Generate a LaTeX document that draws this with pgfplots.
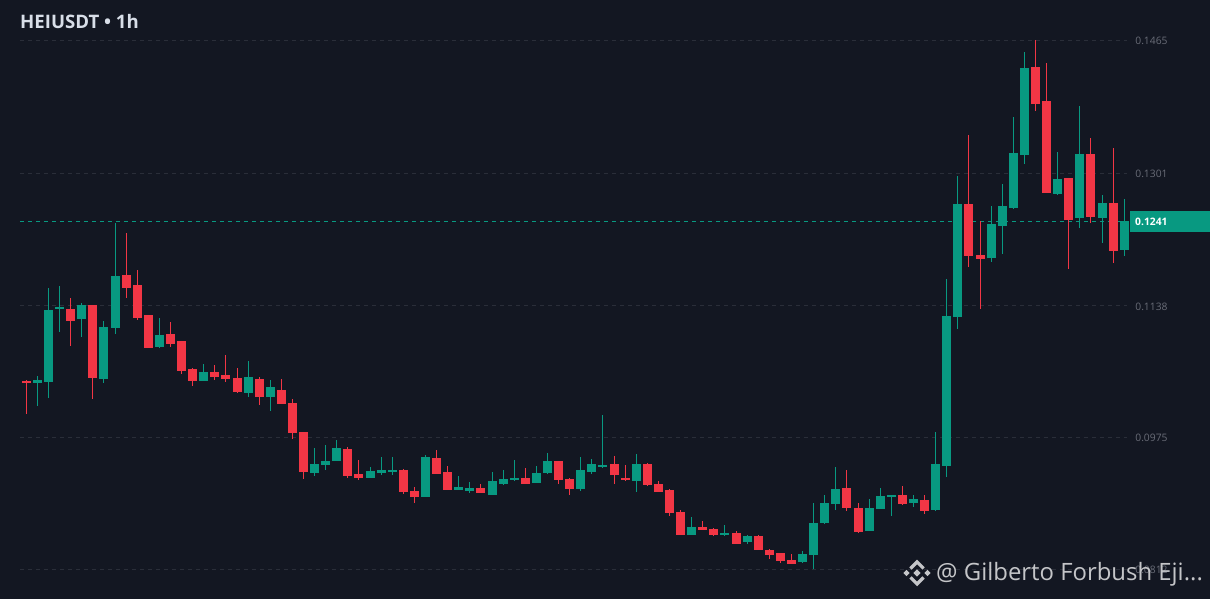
\documentclass[border=0pt]{standalone}
\usepackage{pgfplots}
\usepackage{pgfplotstable}
\pgfplotsset{compat=1.18}
\usepackage{fontspec}
\setmainfont{Open Sans}
\definecolor{bgc}{HTML}{131722}
\definecolor{cg}{HTML}{089981}
\definecolor{cr}{HTML}{F23645}
\definecolor{gridc}{HTML}{2A2E39}
\definecolor{tickc}{HTML}{696C77}
\definecolor{titlec}{HTML}{D8DEE8}
\definecolor{wmc}{HTML}{C4C5C8}
\pgfplotstableread{
i hi top bot lo
1 .10512 .10463 .10426 .10142
2 .11598 .11326 .10438 .10241
3 .11622 .11363 .11339 .11055
5 .11413 .11388 .11215 .10993
7 .11191 .11117 .10475 .10426
8 .12399 .11746 .11104 .11030
12 .11228 .11018 .10870 .10858
16 .10660 .10562 .10451 .10451
20 .10697 .10500 .10303 .10253
22 .10463 .10377 .10253 .10081
26 .09625 .09428 .09317 .09280
27 .09662 .09465 .09415 .09354
28 .09724 .09625 .09465 .09465
31 .09391 .09341 .09255 .09255
32 .09514 .09354 .09317 .09292
33 .09514 .09354 .09329 .09292
36 .09539 .09514 .09021 .09021
39 .09280 .09144 .09107 .09107
40 .09206 .09132 .09095 .09070
42 .09329 .09218 .09045 .09045
43 .09354 .09243 .09181 .09169
44 .09477 .09255 .09230 .09218
46 .09403 .09317 .09193 .09193
47 .09563 .09465 .09317 .09304
50 .09514 .09354 .09119 .09095
51 .09489 .09428 .09329 .09304
52 .10032 .09415 .09391 .09378
55 .09551 .09428 .09218 .09082
60 .08774 .08651 .08552 .08552
63 .08675 .08577 .08552 .08540
65 .08552 .08540 .08466 .08441
70 .08355 .08318 .08219 .08207
71 .08947 .08700 .08305 .08133
72 .09045 .08947 .08700 .08688
73 .09391 .09119 .08934 .08860
76 .08996 .08885 .08601 .08601
77 .09132 .09033 .08873 .08873
78 .09045 .09045 .09021 .08786
80 .09045 .08995 .08946 .08897
82 .09822 .09427 .08860 .08847
83 .11708 .11252 .09406 .09270
84 .12979 .12633 .11240 .11092
87 .12609 .12387 .11967 .11918
88 .12880 .12609 .12362 .12017
89 .13706 .13262 .12584 .12572
90 .14508 .14310 .13238 .13127
93 .13275 .12942 .12757 .12744
95 .13842 .13250 .12461 .12337
97 .12744 .12646 .12461 .12152
99 .12695 .12424 .12066 .11992
}\greentable
\pgfplotstableread{
i hi top bot lo
0 .10459 .10451 .10426 .10044
4 .11474 .11339 .11191 .10882
6 .11388 .11388 .10488 .10229
9 .12276 .11758 .11598 .11474
10 .11820 .11635 .11228 .11203
11 .11265 .11265 .10858 .10858
13 .11178 .11030 .10907 .10870
14 .10944 .10944 .10574 .10537
15 .10611 .10599 .10451 .10389
17 .10648 .10562 .10500 .10463
18 .10771 .10525 .10475 .10438
19 .10611 .10488 .10315 .10303
21 .10500 .10475 .10253 .10155
23 .10475 .10340 .10167 .10167
24 .10229 .10179 .09809 .09735
25 .09822 .09822 .09328 .09242
29 .09637 .09613 .09280 .09255
30 .09477 .09304 .09255 .09230
34 .09366 .09354 .09082 .09058
35 .09144 .09095 .09021 .08947
37 .09600 .09502 .09304 .09304
38 .09403 .09329 .09107 .09107
41 .09181 .09132 .09070 .09070
45 .09378 .09255 .09181 .09181
48 .09465 .09465 .09230 .09181
49 .09255 .09243 .09119 .09045
53 .09526 .09428 .09292 .09181
54 .09415 .09255 .09230 .09218
56 .09440 .09428 .09169 .09156
57 .09218 .09181 .09082 .09082
58 .09119 .09107 .08823 .08786
59 .08860 .08836 .08552 .08552
61 .08725 .08651 .08614 .08614
62 .08638 .08626 .08552 .08540
64 .08601 .08577 .08441 .08441
66 .08552 .08540 .08367 .08367
67 .08379 .08367 .08305 .08256
68 .08330 .08330 .08231 .08207
69 .08318 .08244 .08194 .08194
74 .09354 .09132 .08885 .08848
75 .08947 .08885 .08589 .08577
79 .09156 .09045 .08934 .08921
81 .09045 .08983 .08847 .08810
85 .13484 .12633 .11992 .11856
86 .12420 .12004 .11955 .11338
91 .14656 .14323 .13866 .13780
92 .14372 .13903 .12769 .12769
94 .12954 .12954 .12436 .11832
96 .13447 .13250 .12473 .12399
98 .13324 .12646 .12054 .11906
}\redtable
\pgfplotsset{
  wick/.style={draw=none,mark=none,forget plot,
    error bars/.cd,y dir=both,y explicit,error mark=none,
    error bar style={draw=#1,solid,line width=1pt}},
  body/.style={draw=none,mark=none,forget plot,
    error bars/.cd,y dir=plus,y explicit,error mark=none,
    error bar style={draw=#1,solid,line width=9pt,line cap=butt}},
  level/.style={draw=gridc,line width=0.8pt,dash pattern=on 4pt off 4pt,forget plot,mark=none}
}
\newcommand{\wm}[3]{\node[anchor=west,inner sep=0pt,text=tickc,font=\fontsize{10.3}{12}\selectfont] at ([yshift=-0.8pt]axis cs:#1,#2) {#3};}
\begin{document}
\begin{tikzpicture}[x=1pt,y=1pt]
\useasboundingbox (0,0) rectangle (1210,599);
\fill[bgc] (0,0) rectangle (1210,599);
\begin{axis}[
  at={(0pt,0pt)},anchor=south west,
  scale only axis,width=1210pt,height=599pt,
  axis lines=none,
  xmin=-2.3715,xmax=106.74,
  ymin=0.07762,ymax=0.15149,
  clip=false
]
\addplot[level] coordinates {(-0.57,0.1465)(99.25,0.1465)};
\addplot[level] coordinates {(-0.57,0.1301)(99.25,0.1301)};
\addplot[level] coordinates {(-0.57,0.1138)(99.25,0.1138)};
\addplot[level] coordinates {(-0.57,0.09755)(99.25,0.09755)};
\addplot[level] coordinates {(-0.57,0.0813)(99.25,0.0813)};
\addplot[draw=cg,line width=0.8pt,dash pattern=on 4pt off 4pt,forget plot,mark=none] coordinates {(-0.57,0.12419)(99.25,0.12419)};
\addplot[wick=cg] table[x=i,y=top,y error plus expr=\thisrow{hi}-\thisrow{top},y error minus expr=\thisrow{top}-\thisrow{lo}] {\greentable};
\addplot[wick=cr] table[x=i,y=top,y error plus expr=\thisrow{hi}-\thisrow{top},y error minus expr=\thisrow{top}-\thisrow{lo}] {\redtable};
\addplot[body=cg] table[x=i,y=bot,y error plus expr=\thisrow{top}-\thisrow{bot}] {\greentable};
\addplot[body=cr] table[x=i,y=bot,y error plus expr=\thisrow{top}-\thisrow{bot}] {\redtable};
\wm{99.99}{0.1465}{0.1465}
\wm{99.99}{0.1301}{0.1301}
\wm{99.99}{0.1138}{0.1138}
\wm{99.99}{0.09755}{0.0975}
\wm{99.99}{0.0813}{0.0812}
\end{axis}
% current price label
\fill[cg] (1130,599-232) rectangle (1210,599-211);
\node[anchor=west,inner sep=0pt,text=white,font=\fontsize{10.3}{12}\selectfont\bfseries] at (1135,599-222) {0.1241};
% title
\node[anchor=west,inner sep=0pt,text=titlec,font=\fontsize{18.6}{22}\selectfont\bfseries] at (20,599-21.5) {HEIUSDT • 1h};
% watermark
\begin{scope}[shift={(917,599-573)}]
\fill[wmc] (0,3.6)--(3.6,0)--(0,-3.6)--(-3.6,0)--cycle;
\fill[wmc] (-10.5,3.2)--(-7.3,0)--(-10.5,-3.2)--(-13.7,0)--cycle;
\fill[wmc] (10.5,3.2)--(13.7,0)--(10.5,-3.2)--(7.3,0)--cycle;
\draw[wmc,line width=3.2pt] (-6.6,4.4)--(0,11)--(6.6,4.4);
\draw[wmc,line width=3.2pt] (-6.6,-4.4)--(0,-11)--(6.6,-4.4);
\end{scope}
\node[anchor=west,inner sep=0pt,text=wmc,font=\fontsize{23.9}{28}\selectfont] at (936,599-574.5) {@ Gilberto Forbush Eji...};
\end{tikzpicture}
\end{document}
